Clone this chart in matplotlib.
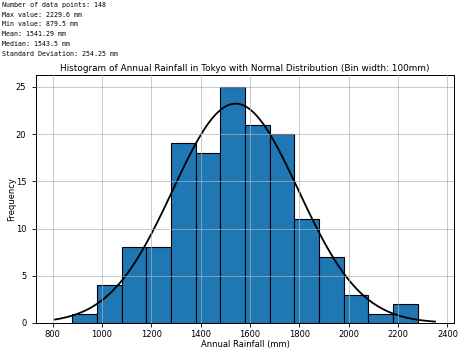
import matplotlib
matplotlib.use('Agg')
import matplotlib.pyplot as plt
import numpy as np

# histogram of annual rainfall, bin width 100 mm starting at the min value
bin_start = 879.5
bin_width = 100
counts = [1, 4, 8, 8, 19, 18, 25, 21, 20, 11, 7, 3, 1, 2]

n_points = 148
max_value = 2229.6
min_value = 879.5
mean_value = 1541.29
median_value = 1543.5
std_value = 254.25

edges = bin_start + bin_width * np.arange(len(counts) + 1)
centers = edges[:-1] + bin_width / 2

fig = plt.figure(figsize=(4.74, 3.51), dpi=100)
ax = fig.add_axes([36 / 474, 1 - 323 / 351, 418 / 474, 248 / 351])

ax.hist(centers, bins=edges, weights=counts, color='#1f77b4', edgecolor='black', linewidth=0.8)

# normal curve scaled to counts, over the histogram's own x range
xmin, xmax = ax.get_xlim()
x = np.linspace(xmin, xmax, 100)
pdf = np.exp(-0.5 * ((x - mean_value) / std_value) ** 2) / (std_value * np.sqrt(2 * np.pi))
ax.plot(x, pdf * n_points * bin_width, color='black', linewidth=1.3)

ax.set_xticks(np.arange(800, 2401, 200))
ax.set_yticks(np.arange(0, 26, 5))
ax.tick_params(labelsize=6, length=3, width=0.6, pad=2)
ax.tick_params(axis='y', pad=4)
ax.grid(True, color='#b0b0b0', linewidth=0.6, alpha=0.8)
ax.set_axisbelow(False)
for s in ax.spines.values():
    s.set_linewidth(0.7)

ax.set_title('Histogram of Annual Rainfall in Tokyo with Normal Distribution (Bin width: 100mm)',
             fontsize=6.4, pad=3)
ax.set_xlabel('Annual Rainfall (mm)', fontsize=6, labelpad=1)
ax.set_ylabel('Frequency', fontsize=6, labelpad=0)

stats_text = (f'Number of data points: {n_points}\n'
              f'Max value: {max_value} mm\n'
              f'Min value: {min_value} mm\n'
              f'Mean: {mean_value} mm\n'
              f'Median: {median_value} mm\n'
              f'Standard Deviation: {std_value} mm')
fig.text(2 / 474, 1 - 2 / 351, stats_text, fontsize=4.8, family='DejaVu Sans Mono',
         va='top', ha='left', linespacing=1.75)

fig.savefig('out.png', dpi=100)
